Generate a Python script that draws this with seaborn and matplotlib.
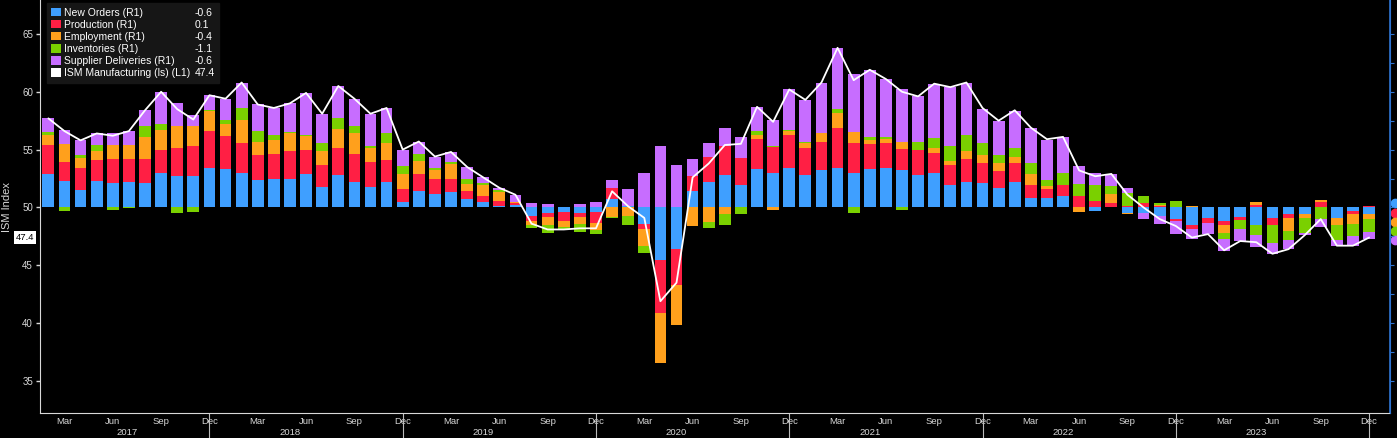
import numpy as np
import pandas as pd
import seaborn as sns
import matplotlib
matplotlib.use("Agg")
import matplotlib.pyplot as plt
from matplotlib.patches import Patch
import matplotlib.transforms as mtransforms

# contributions to the ISM index (points above / below 50), Feb 2017 .. Dec 2023
months = pd.period_range("2017-02", "2023-12", freq="M")

new_orders = [2.9, 2.3, 1.5, 2.3, 2.1, 2.2, 2.1, 3.0, 2.7, 2.7, 3.4, 3.3,
              3.0, 2.4, 2.5, 2.5, 2.9, 1.8, 2.8, 2.2, 1.8, 2.2, 0.5, 1.4,
              1.2, 1.3, 0.7, 0.5, 0.1, 0.2, -0.7, -0.5, -0.35, -0.45, -0.35, 0.75,
              0.15, -1.45, -4.55, -3.6, 1.4, 2.2, 2.85, 1.95, 3.3, 3.0, 3.45, 2.85,
              3.25, 3.45, 3.0, 3.3, 3.45, 3.2, 2.8, 3.0, 1.95, 2.2, 2.1, 1.7,
              2.2, 0.85, 0.8, 0.95, 0.05, -0.3, 0.05, -0.45, -0.45, -0.7, -1.0, -1.5,
              -0.95, -1.15, -0.85, -1.5, -0.9, -0.6, -0.6, 0.0, -0.9, -0.3, -0.6]
production = [2.5, 1.6, 1.9, 1.8, 2.1, 2.0, 2.1, 2.0, 2.4, 2.6, 3.2, 2.9,
              2.6, 2.1, 2.1, 2.4, 2.1, 1.9, 2.3, 2.4, 2.1, 1.9, 1.1, 1.5,
              1.3, 1.2, 0.7, 0.5, 0.5, 0.15, -0.45, -0.35, -0.8, -0.4, -0.95, 0.95,
              0.0, -0.45, -4.55, -3.1, 1.35, 2.2, 2.5, 2.35, 2.6, 2.2, 2.85, 2.3,
              2.45, 3.4, 2.6, 2.15, 2.15, 1.85, 2.15, 1.75, 1.75, 2.0, 1.75, 1.45,
              1.65, 1.05, 0.8, 1.0, 0.9, 0.6, 0.3, 0.15, 0.4, 0.1, -0.2, -0.4,
              -0.35, -0.4, -0.25, 0.25, -0.65, -0.3, 0.0, 0.45, 0.0, -0.3, 0.1]
employment = [0.9, 1.6, 0.9, 0.8, 1.2, 1.2, 1.9, 1.7, 1.9, 1.7, 1.7, 1.0,
              2.0, 1.2, 1.2, 1.5, 1.2, 1.2, 1.7, 1.8, 1.2, 1.5, 1.3, 1.1,
              0.7, 1.3, 0.6, 0.9, 0.75, 0.15, -0.4, -0.7, -0.55, -0.6, -0.65, -0.8,
              -0.7, -1.4, -4.35, -3.45, -1.6, -1.25, -0.55, 0.0, 0.4, -0.25, 0.3, 0.4,
              0.7, 1.35, 0.95, 0.4, 0.3, 0.65, 0.0, 0.35, 0.35, 0.7, 0.65, 0.7,
              0.5, 1.0, 0.25, 0.0, -0.4, 0.0, 0.8, -0.1, 0.0, 0.1, 0.0, 0.1,
              0.0, -0.65, 0.0, 0.25, 0.0, -1.1, -0.3, 0.2, -0.65, -0.85, -0.4]
inventories = [0.2, -0.3, 0.2, 0.5, -0.2, -0.05, 0.9, 0.5, -0.5, -0.4, 0.1, 0.4,
               1.0, 0.9, 0.5, 0.1, 0.1, 0.7, 0.9, 0.6, 0.2, 0.8, 0.7, 0.6,
               0.2, 0.1, 0.5, 0.2, 0.15, 0.0, -0.25, -0.65, -0.2, -0.7, -0.35, -0.15,
               -0.85, -0.65, 0.0, 0.0, 0.0, -0.5, -1.0, -0.6, 0.3, 0.1, 0.1, 0.1,
               0.0, 0.3, -0.5, 0.25, 0.15, -0.2, 0.7, 0.9, 1.25, 1.4, 1.05, 0.7,
               0.8, 0.95, 0.55, 1.0, 1.1, 1.3, 0.7, 1.1, 0.55, 0.2, 0.6, 0.0,
               0.0, -0.5, -0.75, -0.85, -1.5, -0.8, -1.3, -1.0, -1.3, -1.0, -1.1]
supplier_deliveries = [1.2, 1.2, 1.3, 1.0, 1.0, 1.2, 1.4, 2.8, 2.0, 1.0, 1.3, 1.8,
                       2.2, 2.3, 2.3, 2.5, 3.6, 2.5, 2.8, 2.4, 2.8, 2.2, 1.4, 1.1,
                       1.0, 0.9, 1.0, 0.5, 0.2, 0.55, 0.35, 0.3, 0.0, 0.3, 0.45, 0.65,
                       1.45, 3.0, 5.3, 3.65, 1.45, 1.15, 1.55, 1.75, 2.1, 2.3, 3.5, 3.6,
                       4.4, 5.3, 4.95, 5.8, 5.05, 4.5, 3.95, 4.7, 5.1, 4.45, 3.0, 2.95,
                       3.2, 3.05, 3.45, 3.15, 1.5, 1.1, 1.05, 0.4, -0.55, -0.7, -1.05, -0.85,
                       -1.0, -1.05, -1.05, -1.1, -0.95, -0.8, -0.2, -0.7, -0.45, -0.85, -0.6]
ism = [57.7, 56.6, 55.8, 56.4, 56.2, 56.6, 58.4, 60.0, 58.5, 57.6, 59.7, 59.4,
       60.8, 58.9, 58.6, 59.0, 59.9, 58.1, 60.5, 59.4, 58.1, 58.6, 55.0, 55.7,
       54.4, 54.8, 53.5, 52.6, 51.7, 51.1, 48.6, 48.1, 48.1, 48.2, 48.2, 51.4,
       50.1, 49.1, 41.9, 43.5, 52.6, 53.8, 55.4, 55.5, 58.7, 57.4, 60.2, 59.3,
       60.8, 63.8, 61.0, 61.9, 61.1, 60.0, 59.6, 60.7, 60.4, 60.8, 58.6, 57.5,
       58.4, 56.9, 55.9, 56.1, 53.2, 52.7, 52.9, 51.1, 50.0, 49.0, 48.4, 47.4,
       47.7, 46.3, 47.1, 47.0, 46.0, 46.4, 47.6, 49.0, 46.7, 46.7, 47.4]

names = ["New Orders (R1)", "Production (R1)", "Employment (R1)",
         "Inventories (R1)", "Supplier Deliveries (R1)"]
colors = ["#3f9fff", "#ff1f44", "#ffa01c", "#7ad000", "#c76dff"]
series = [new_orders, production, employment, inventories, supplier_deliveries]

sns.set_style("dark")
plt.rcParams["font.family"] = ["Liberation Sans", "DejaVu Sans"]

fig = plt.figure(figsize=(13.97, 4.38), dpi=100, facecolor="black")
ax = fig.add_axes([40 / 1397, 25 / 438, 1350 / 1397, 413 / 438])
ax.set_facecolor("black")

x = np.arange(len(months))
pos_base = np.full(len(x), 50.0)
neg_base = np.full(len(x), 50.0)
for vals, col in zip(series, colors):
    v = np.array(vals)
    bottom = np.where(v >= 0, pos_base, neg_base)
    ax.bar(x, v, bottom=bottom, width=0.73, color=col, linewidth=0)
    pos_base += np.clip(v, 0, None)
    neg_base += np.clip(v, None, 0)

sns.lineplot(x=x, y=ism, color="white", linewidth=1.3, ax=ax, legend=False)

ax.set_xlim(-0.52, 83.3)
ax.set_ylim(32.24, 67.93)

# y axis
ax.set_yticks(np.arange(35, 66, 5))
ax.tick_params(axis="y", colors="#d8d8d8", labelsize=7, length=3, width=1, pad=2)
ax.set_ylabel("ISM Index", color="#d8d8d8", fontsize=8)
ax.yaxis.set_label_coords(-0.021, 0.5)

# x axis: monthly ticks, quarter labels, year labels underneath
labels = [m.strftime("%b") if m.month in (3, 6, 9, 12) else "" for m in months]
ax.set_xticks(x)
ax.set_xticklabels(labels)
ax.tick_params(axis="x", colors="#d8d8d8", labelsize=6.8, direction="in",
               length=3, width=0.8, pad=3)
trans = mtransforms.blended_transform_factory(ax.transData, ax.transAxes)
for yr in range(2017, 2024):
    idx = [i for i, m in enumerate(months) if m.year == yr]
    xpos = 4.9 if yr == 2017 else idx[4]
    ax.text(xpos, -0.048, str(yr), transform=trans, ha="center", va="center",
            color="#d8d8d8", fontsize=6.8)
for i, m in enumerate(months):
    if m.month == 12:
        ax.plot([i, i], [0, -0.062], transform=trans, color="#bbbbbb",
                linewidth=0.8, clip_on=False)

ax.spines["top"].set_visible(False)
ax.spines["left"].set_color("#d8d8d8")
ax.spines["bottom"].set_color("#d8d8d8")
ax.spines["right"].set_color("#2f74d0")
ax.spines["right"].set_linewidth(1.2)
ax.grid(False)

ax2 = ax.twinx()
ax2.set_ylim(ax.get_ylim())
ax2.set_yticks(np.arange(35, 67.5, 2.5))
ax2.set_yticklabels([])
ax2.tick_params(axis="y", colors="#2f74d0", length=3)
for s in ["top", "left", "bottom"]:
    ax2.spines[s].set_visible(False)
ax2.spines["right"].set_color("#2f74d0")
ax2.grid(False)

# last value tag of the ISM line (left axis)
ytrans = mtransforms.blended_transform_factory(ax.transAxes, ax.transData)
ax.text(-0.004, ism[-1], f"{ism[-1]:.1f}", transform=ytrans, ha="right", va="center",
        fontsize=6.8, color="black",
        bbox=dict(boxstyle="square,pad=0.18", facecolor="white", edgecolor="none"))

# last value markers of the contribution series (right axis), stacked as tags
for k, col in enumerate(colors):
    ax.plot([1.004], [50.35 - 0.8 * k], transform=ytrans, marker="o", markersize=6,
            color=col, clip_on=False, linestyle="none")

# legend with values column
last_vals = [s[-1] for s in series] + [ism[-1]]
handles = [Patch(facecolor=c, edgecolor="none") for c in colors]
handles.append(Patch(facecolor="white", edgecolor="none"))
handles += [Patch(facecolor="none", edgecolor="none") for _ in last_vals]
leg_labels = names + ["ISM Manufacturing (ls) (L1)"] + [f"{v:.1f}" for v in last_vals]
leg = ax.legend(handles, leg_labels, ncol=2, loc="upper left",
                bbox_to_anchor=(0.005, 0.993), borderaxespad=0, fontsize=7.5,
                frameon=True, facecolor="#161616", edgecolor="#161616", framealpha=1,
                labelcolor="white", handlelength=0.9, handleheight=0.9,
                handletextpad=0.35, labelspacing=0.2, columnspacing=-0.9,
                borderpad=0.45, fancybox=False)

fig.savefig("out.png", dpi=100, facecolor="black")
